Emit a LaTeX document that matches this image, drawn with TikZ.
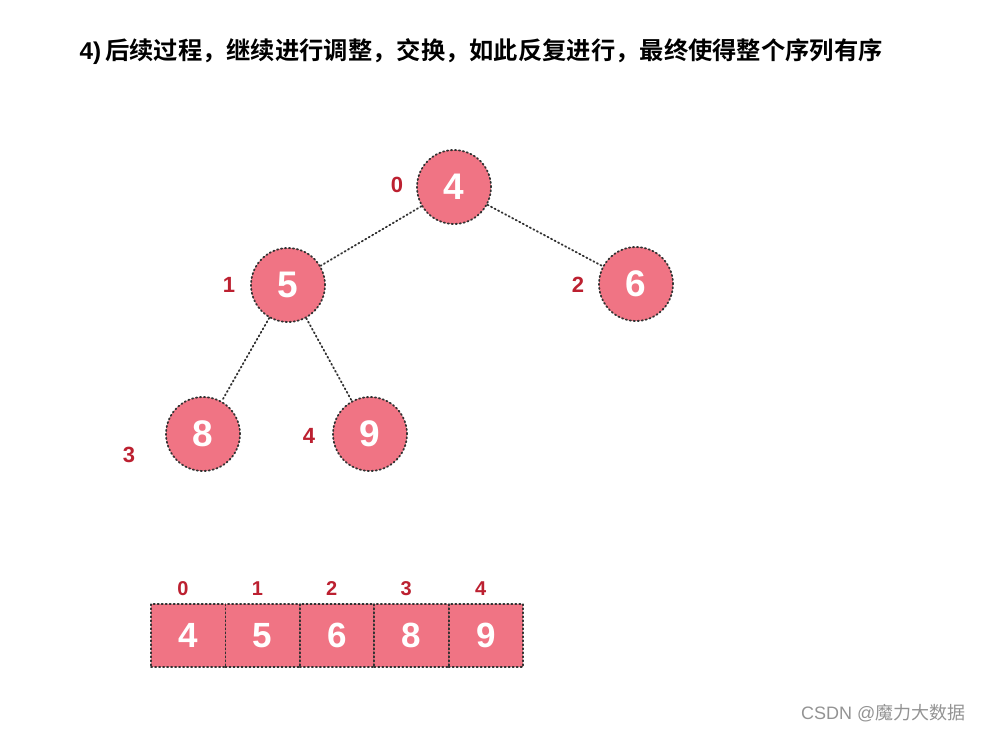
\documentclass[tikz,border=0pt]{standalone}
\usepackage{fontspec}
\setmainfont{Liberation Sans}
\newfontfamily\cjk{Noto Sans CJK SC}[BoldFont={Noto Sans CJK SC Bold}]
\usetikzlibrary{positioning}
\definecolor{hpPink}{RGB}{240,116,132}
\definecolor{hpRed}{RGB}{188,32,48}
\definecolor{hpDot}{RGB}{50,50,50}

\begin{document}
\begin{tikzpicture}[x=1pt,y=-1pt,
      dots/.style={draw=hpDot,line width=1.8pt,line cap=round,dash pattern=on 1.2pt off 2.8pt},
      hnode/.style={circle,dots,fill=hpPink,minimum size=74pt,
                    inner sep=0pt,text=white,font=\fontsize{37}{37}\selectfont\bfseries},
      idx/.style={text=hpRed,font=\fontsize{22}{22}\selectfont\bfseries},
      cell/.style={rectangle,dots,fill=hpPink,minimum width=74.4pt,
                   minimum height=63pt,inner sep=0pt,text=white,font=\fontsize{35}{35}\selectfont\bfseries},
      edge/.style={dots}]
    \useasboundingbox (0,0) rectangle (985,732);
    % title
    \node[anchor=west,font=\fontsize{24.3}{26}\selectfont\bfseries] (title) at (76,52) {4)\,{\cjk 后续过程，继续进行调整，交换，如此反复进行，最终使得整个序列有序}};
    % heap as tree
    \node[hnode] (n0) at (454,187) {4};
    \node[hnode] (n1) at (288,285) {5};
    \node[hnode] (n2) at (636,284) {6};
    \node[hnode] (n3) at (203,434) {8};
    \node[hnode] (n4) at (370,434) {9};
    \node[idx] (i0) at (397,185) {0};
    \node[idx] (i1) at (229,285) {1};
    \node[idx] (i2) at (578,285) {2};
    \node[idx] (i3) at (129,455) {3};
    \node[idx] (i4) at (309,436) {4};
    \draw[edge] (n0) -- (n1);
    \draw[edge] (n0) -- (n2);
    \draw[edge] (n1) -- (n3);
    \draw[edge] (n1) -- (n4);
    % heap as array
    \foreach \v [count=\k from 0] in {4,5,6,8,9} {
      \node[cell] (c\k) at (188.2+74.4*\k,635.5) {\v};
      \node[idx,font=\fontsize{20}{20}\selectfont\bfseries] (a\k) at (183+74.4*\k,589) {\k};
    }
    % watermark
    \node[anchor=east,text=gray!85,font=\fontsize{18}{18}\selectfont] (wm) at (969,713) {CSDN @{\cjk 魔力大数据}};
  \end{tikzpicture}
\end{document}
